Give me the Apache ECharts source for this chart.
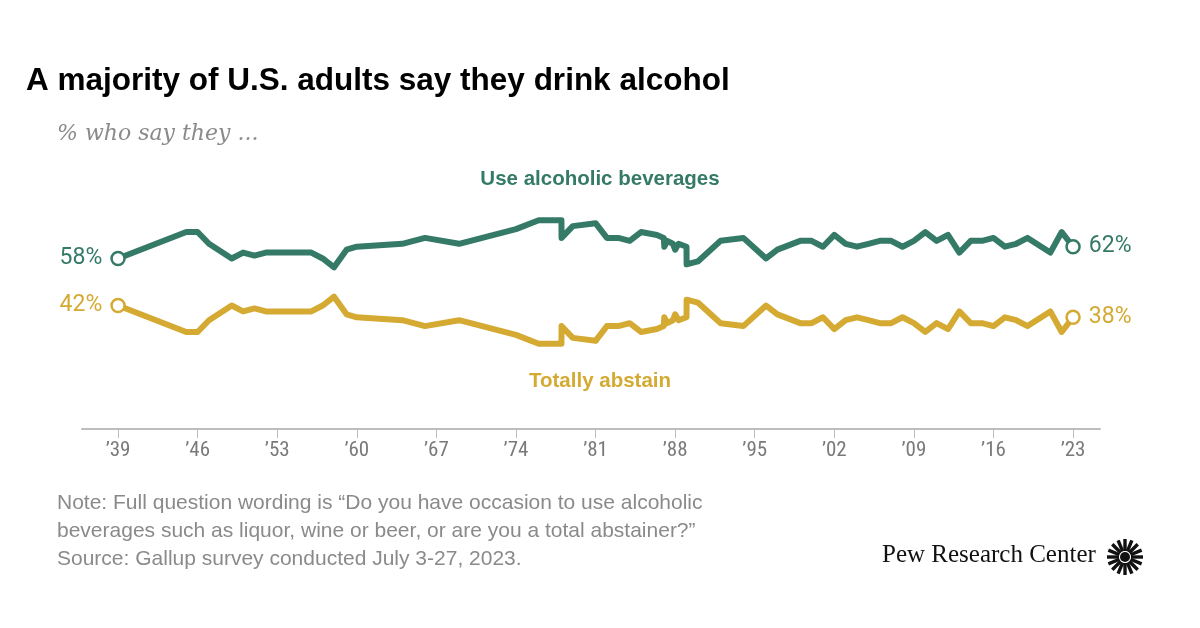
<!DOCTYPE html>
<html>
<head>
<meta charset="utf-8">
<script src="https://cdn.jsdelivr.net/npm/echarts@6/dist/echarts.min.js"></script>
<style>
  html, body { margin: 0; padding: 0; background: #fff; }
  #main { width: 1200px; height: 628px; }
</style>
</head>
<body>
<div id="main"></div>
<script>
// survey dates (year, several per year where Gallup asked more than once)
var years = [1939, 1945, 1946, 1947, 1949, 1950, 1951, 1952, 1956, 1957,
  1958, 1959.1, 1960, 1964, 1966, 1969, 1974, 1976, 1977, 1978,
  1978.01, 1979, 1981, 1982, 1983, 1984, 1985, 1986.4, 1987, 1987.05,
  1987.3, 1987.8, 1988, 1988.3, 1989, 1989.01, 1990, 1992, 1994, 1996,
  1997, 1999, 2000, 2001, 2002, 2003, 2004, 2005, 2006, 2007,
  2008, 2009, 2010, 2011, 2012, 2013, 2014, 2015, 2016, 2017,
  2018, 2019, 2021, 2022, 2023];

var useAlcohol = [58, 67, 67, 63, 58, 60, 59, 60, 60, 58,
  55, 61, 62, 63, 65, 63, 68, 71, 71, 71,
  65, 69, 70, 65, 65, 64, 67, 66, 65, 62,
  64, 63, 61, 63, 62, 56, 57, 64, 65, 58,
  61, 64, 64, 62, 66, 63, 62, 63, 64, 64,
  62, 64, 67, 64, 66, 60, 64, 64, 65, 62,
  63, 65, 60, 67, 62];

var abstain = [42, 33, 33, 37, 42, 40, 41, 40, 40, 42,
  45, 39, 38, 37, 35, 37, 32, 29, 29, 29,
  35, 31, 30, 35, 35, 36, 33, 34, 35, 38,
  36, 37, 39, 37, 38, 44, 43, 36, 35, 42,
  39, 36, 36, 38, 34, 37, 38, 37, 36, 36,
  38, 36, 33, 36, 34, 40, 36, 36, 35, 38,
  37, 35, 40, 33, 38];

var tickYears = [1939, 1946, 1953, 1960, 1967, 1974, 1981, 1988, 1995, 2002, 2009, 2016, 2023];

var GREEN = '#357a67';
var GOLD = '#d5aa33';
var condensed = "'Liberation Sans Narrow', 'Roboto Condensed', 'Liberation Sans', sans-serif";
var sans = "Roboto, 'Liberation Sans', sans-serif";
var wide = "'Liberation Sans', Arial, sans-serif";

function buildData(vals, color) {
  var last = vals.length - 1;
  return vals.map(function (v, i) {
    var item = { value: [years[i], v] };
    if (i === 0 || i === last) {
      item.symbol = 'circle';
      item.symbolSize = 13;
      item.itemStyle = { color: '#fff', borderColor: color, borderWidth: 2.5 };
      item.label = {
        show: true,
        position: i === 0 ? 'left' : 'right',
        distance: 8,
        formatter: v + '%',
        color: color,
        fontSize: 23,
        fontFamily: sans
      };
    }
    return item;
  });
}

// little sunburst for the logo
var logo = [];
for (var k = 0; k < 16; k++) {
  var a = k / 16 * Math.PI * 2;
  logo.push({
    type: 'line',
    shape: {
      x1: 1125 + Math.cos(a) * 6, y1: 557 + Math.sin(a) * 6,
      x2: 1125 + Math.cos(a) * 18, y2: 557 + Math.sin(a) * 18
    },
    style: { stroke: '#111', lineWidth: 3.4 }
  });
}
logo.push({ type: 'circle', shape: { cx: 1125, cy: 557, r: 5 }, style: { fill: '#111' } });

var chart = echarts.init(document.getElementById('main'));
chart.setOption({
  animation: false,
  backgroundColor: '#fff',
  grid: { left: 82, right: 100, top: 135, bottom: 199 },
  xAxis: {
    type: 'value',
    min: 1935.83,
    max: 2025.37,
    axisLine: { show: true, lineStyle: { color: '#bdbdbd', width: 2 } },
    axisTick: { show: true, customValues: tickYears, length: 9, lineStyle: { color: '#bdbdbd' } },
    axisLabel: {
      customValues: tickYears,
      formatter: function (v) { return '\u2019' + String(v).slice(2); },
      color: '#7a7a7a',
      fontSize: 21,
      margin: 11,
      fontFamily: condensed
    },
    splitLine: { show: false }
  },
  yAxis: {
    type: 'value',
    min: 0,
    max: 100,
    show: false,
    splitLine: { show: false }
  },
  series: [{
    name: 'Use alcoholic beverages',
    type: 'line',
    data: buildData(useAlcohol, GREEN),
    showSymbol: true,
    symbol: 'none',
    lineStyle: { color: GREEN, width: 6, join: 'round', cap: 'round' },
    itemStyle: { color: GREEN },
    z: 3
  }, {
    name: 'Totally abstain',
    type: 'line',
    data: buildData(abstain, GOLD),
    showSymbol: true,
    symbol: 'none',
    lineStyle: { color: GOLD, width: 6, join: 'round', cap: 'round' },
    itemStyle: { color: GOLD },
    z: 2
  }],
  graphic: [{
    type: 'text', left: 26, top: 65,
    style: {
      text: 'A majority of U.S. adults say they drink alcohol',
      fill: '#000', fontSize: 31.5, fontWeight: 'bold', fontFamily: wide
    }
  }, {
    type: 'text', left: 57, top: 123,
    style: {
      text: '% who say they ...',
      fill: '#8a8a8a', fontSize: 22, fontStyle: 'italic',
      fontFamily: "'DejaVu Serif', 'Liberation Serif', serif"
    }
  }, {
    type: 'text', left: 'center', top: 169,
    style: {
      text: 'Use alcoholic beverages',
      fill: GREEN, fontSize: 20.5, fontWeight: 'bold', fontFamily: wide
    }
  }, {
    type: 'text', left: 'center', top: 371,
    style: {
      text: 'Totally abstain',
      fill: GOLD, fontSize: 20.5, fontWeight: 'bold', fontFamily: wide
    }
  }, {
    type: 'text', left: 57, top: 489,
    style: {
      text: 'Note: Full question wording is \u201cDo you have occasion to use alcoholic\nbeverages such as liquor, wine or beer, or are you a total abstainer?\u201d\nSource: Gallup survey conducted July 3-27, 2023.',
      fill: '#8a8a8a', fontSize: 21, lineHeight: 28, fontFamily: wide
    }
  }, {
    type: 'text', left: 882, top: 543,
    style: {
      text: 'Pew Research Center',
      fill: '#111', fontSize: 25, fontFamily: "'Liberation Serif', 'DejaVu Serif', serif"
    }
  }].concat(logo)
});
</script>
</body>
</html>
